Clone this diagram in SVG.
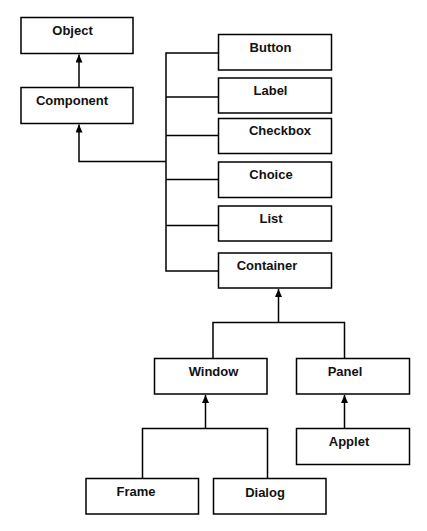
<svg xmlns="http://www.w3.org/2000/svg" width="427" height="531" viewBox="0 0 427 531">
<style>
.box{fill:#fff;stroke:#000;stroke-width:1.5}
.lbl{font-family:"Liberation Sans",Arial,sans-serif;font-weight:bold;font-size:13px;fill:#111;text-anchor:middle}
.ln{fill:none;stroke:#000;stroke-width:1.5}
</style>
<defs>
<marker id="ah" markerWidth="8" markerHeight="7" refX="8" refY="3.5" orient="auto" markerUnits="userSpaceOnUse" viewBox="0 0 8 7">
<path d="M0,0 L8,3.5 L0,7 Z" fill="#000"/>
</marker>
</defs>
<rect width="427" height="531" fill="#fff"/>
<g id="connectors">
<path class="ln" d="M79,87 V54.5" marker-end="url(#ah)"/>
<path class="ln" d="M166,161.5 H79 V124.5" marker-end="url(#ah)"/>
<path class="ln" d="M218,53 H166 V271 H218"/>
<path class="ln" d="M166,97 H218"/>
<path class="ln" d="M166,135.5 H218"/>
<path class="ln" d="M166,179.5 H218"/>
<path class="ln" d="M166,225.5 H218"/>
<path class="ln" d="M278.5,322.5 V289" marker-end="url(#ah)"/>
<path class="ln" d="M213,358 V322.5 H344.5 V358"/>
<path class="ln" d="M205.5,428.5 V395" marker-end="url(#ah)"/>
<path class="ln" d="M142.5,478 V428.5 H267.5 V478"/>
<path class="ln" d="M344.5,428 V395" marker-end="url(#ah)"/>
</g>
<g id="object"><rect class="box" x="21" y="17.5" width="112" height="36"/><text class="lbl" x="72.5" y="35">Object</text></g>
<g id="component"><rect class="box" x="21" y="87.5" width="112" height="36"/><text class="lbl" x="72" y="104.5">Component</text></g>
<g id="button"><rect class="box" x="218.5" y="34.5" width="113" height="35.5"/><text class="lbl" x="270.5" y="52">Button</text></g>
<g id="label"><rect class="box" x="218.5" y="78" width="113" height="35"/><text class="lbl" x="270.5" y="95">Label</text></g>
<g id="checkbox"><rect class="box" x="218.5" y="118.5" width="113" height="35"/><text class="lbl" x="280" y="135">Checkbox</text></g>
<g id="choice"><rect class="box" x="218.5" y="162" width="113" height="35.5"/><text class="lbl" x="271" y="178.5">Choice</text></g>
<g id="list"><rect class="box" x="218.5" y="206" width="113" height="35"/><text class="lbl" x="271" y="222.5">List</text></g>
<g id="container"><rect class="box" x="218.5" y="253" width="113" height="35"/><text class="lbl" x="267" y="269.5">Container</text></g>
<g id="window"><rect class="box" x="154.5" y="358.5" width="112.5" height="35.5"/><text class="lbl" x="213.5" y="375.5">Window</text></g>
<g id="panel"><rect class="box" x="296.5" y="358.5" width="113" height="35.5"/><text class="lbl" x="345" y="375.5">Panel</text></g>
<g id="applet"><rect class="box" x="296.5" y="428.5" width="113" height="36"/><text class="lbl" x="349" y="446">Applet</text></g>
<g id="frame"><rect class="box" x="86" y="478.5" width="112.5" height="35.5"/><text class="lbl" x="136" y="496">Frame</text></g>
<g id="dialog"><rect class="box" x="213.5" y="478.5" width="112.5" height="35.5"/><text class="lbl" x="265" y="496.5">Dialog</text></g>
</svg>
